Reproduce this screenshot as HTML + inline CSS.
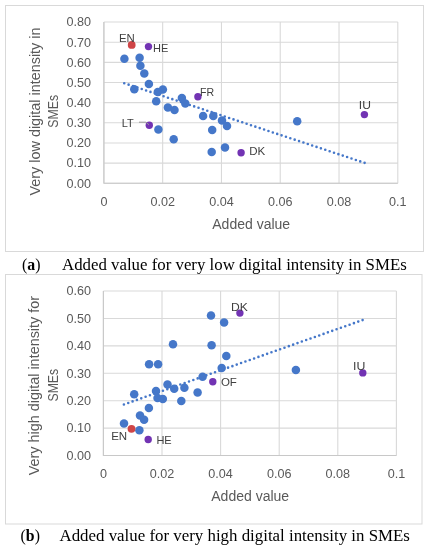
<!DOCTYPE html><html><head><meta charset="utf-8"><title>Added value vs digital intensity</title>
<style>html,body{margin:0;padding:0;background:#fff;}svg{display:block;will-change:transform;}text{font-family:"Liberation Sans", sans-serif;}</style></head><body>
<svg width="429" height="550" viewBox="0 0 429 550">
<rect x="0" y="0" width="429" height="550" fill="#fff"/>
<rect x="5.5" y="5.5" width="418.0" height="246.0" fill="none" stroke="#D9D9D9" stroke-width="1"/>
<path d="M103.90 183.30H397.80 M103.90 163.14H397.80 M103.90 142.98H397.80 M103.90 122.82H397.80 M103.90 102.66H397.80 M103.90 82.50H397.80 M103.90 62.34H397.80 M103.90 42.18H397.80 M103.90 22.02H397.80 M103.90 22.02V183.30 M162.68 22.02V183.30 M221.46 22.02V183.30 M280.24 22.02V183.30 M339.02 22.02V183.30 M397.80 22.02V183.30" stroke="#D9D9D9" stroke-width="1.1" fill="none"/>
<path d="M103.90 22.02V183.30H397.80" stroke="#C8C8C8" stroke-width="1.1" fill="none"/>
<text x="91.1" y="187.65" font-size="12.6" fill="#595959" text-anchor="end">0.00</text>
<text x="91.1" y="167.49" font-size="12.6" fill="#595959" text-anchor="end">0.10</text>
<text x="91.1" y="147.33" font-size="12.6" fill="#595959" text-anchor="end">0.20</text>
<text x="91.1" y="127.17" font-size="12.6" fill="#595959" text-anchor="end">0.30</text>
<text x="91.1" y="107.01" font-size="12.6" fill="#595959" text-anchor="end">0.40</text>
<text x="91.1" y="86.85" font-size="12.6" fill="#595959" text-anchor="end">0.50</text>
<text x="91.1" y="66.69" font-size="12.6" fill="#595959" text-anchor="end">0.60</text>
<text x="91.1" y="46.53" font-size="12.6" fill="#595959" text-anchor="end">0.70</text>
<text x="91.1" y="26.37" font-size="12.6" fill="#595959" text-anchor="end">0.80</text>
<text x="103.90" y="205.90" font-size="12.6" fill="#595959" text-anchor="middle">0</text>
<text x="162.68" y="205.90" font-size="12.6" fill="#595959" text-anchor="middle">0.02</text>
<text x="221.46" y="205.90" font-size="12.6" fill="#595959" text-anchor="middle">0.04</text>
<text x="280.24" y="205.90" font-size="12.6" fill="#595959" text-anchor="middle">0.06</text>
<text x="339.02" y="205.90" font-size="12.6" fill="#595959" text-anchor="middle">0.08</text>
<text x="397.80" y="205.90" font-size="12.6" fill="#595959" text-anchor="middle">0.1</text>
<text x="251.20" y="228.50" font-size="14" fill="#595959" text-anchor="middle">Added value</text>
<text transform="translate(39.80,111.50) rotate(-90)" x="0" y="0" font-size="14" fill="#595959" text-anchor="middle" textLength="168.0" lengthAdjust="spacingAndGlyphs">Very low digital intensity in</text>
<text transform="translate(58.20,111.30) rotate(-90)" x="0" y="0" font-size="14" fill="#595959" text-anchor="middle" textLength="32.7" lengthAdjust="spacingAndGlyphs">SMEs</text>
<path d="M124.25 83.22h0M128.62 84.66h0M132.99 86.11h0M137.36 87.56h0M141.73 89.01h0M146.10 90.45h0M150.47 91.90h0M154.84 93.35h0M159.21 94.80h0M163.58 96.24h0M167.95 97.69h0M172.32 99.14h0M176.69 100.59h0M181.06 102.03h0M185.43 103.48h0M189.80 104.93h0M194.17 106.38h0M198.54 107.82h0M202.91 109.27h0M207.28 110.72h0M211.65 112.17h0M216.02 113.62h0M220.39 115.06h0M224.76 116.51h0M229.13 117.96h0M233.50 119.41h0M237.87 120.85h0M242.24 122.30h0M246.61 123.75h0M250.98 125.20h0M255.35 126.64h0M259.72 128.09h0M264.09 129.54h0M268.46 130.99h0M272.83 132.43h0M277.20 133.88h0M281.57 135.33h0M285.94 136.78h0M290.31 138.22h0M294.68 139.67h0M299.05 141.12h0M303.42 142.57h0M307.79 144.01h0M312.16 145.46h0M316.53 146.91h0M320.90 148.36h0M325.27 149.81h0M329.64 151.25h0M334.01 152.70h0M338.38 154.15h0M342.75 155.60h0M347.12 157.04h0M351.49 158.49h0M355.86 159.94h0M360.23 161.39h0M364.60 162.83h0" stroke="#4577C9" stroke-width="2.6" stroke-linecap="round" fill="none"/>
<circle cx="124.4" cy="58.7" r="4.25" fill="#4577C9"/>
<circle cx="139.6" cy="57.8" r="4.25" fill="#4577C9"/>
<circle cx="140.4" cy="65.8" r="4.25" fill="#4577C9"/>
<circle cx="144.3" cy="73.6" r="4.25" fill="#4577C9"/>
<circle cx="148.9" cy="84.1" r="4.25" fill="#4577C9"/>
<circle cx="134.3" cy="89.3" r="4.25" fill="#4577C9"/>
<circle cx="157.8" cy="92.1" r="4.25" fill="#4577C9"/>
<circle cx="162.9" cy="89.5" r="4.25" fill="#4577C9"/>
<circle cx="156.2" cy="101.2" r="4.25" fill="#4577C9"/>
<circle cx="167.9" cy="107.6" r="4.25" fill="#4577C9"/>
<circle cx="174.5" cy="110.0" r="4.25" fill="#4577C9"/>
<circle cx="181.9" cy="97.9" r="4.25" fill="#4577C9"/>
<circle cx="185.3" cy="103.6" r="4.25" fill="#4577C9"/>
<circle cx="158.4" cy="129.6" r="4.25" fill="#4577C9"/>
<circle cx="173.7" cy="139.2" r="4.25" fill="#4577C9"/>
<circle cx="203.1" cy="116.0" r="4.25" fill="#4577C9"/>
<circle cx="213.3" cy="116.1" r="4.25" fill="#4577C9"/>
<circle cx="222.0" cy="120.6" r="4.25" fill="#4577C9"/>
<circle cx="227.0" cy="126.0" r="4.25" fill="#4577C9"/>
<circle cx="212.2" cy="129.9" r="4.25" fill="#4577C9"/>
<circle cx="225.0" cy="147.4" r="4.25" fill="#4577C9"/>
<circle cx="211.7" cy="152.1" r="4.25" fill="#4577C9"/>
<circle cx="297.2" cy="121.2" r="4.25" fill="#4577C9"/>
<circle cx="131.7" cy="44.9" r="3.9" fill="#CF4547"/>
<circle cx="148.5" cy="46.6" r="3.7" fill="#7233B3"/>
<circle cx="197.9" cy="96.7" r="3.7" fill="#7233B3"/>
<circle cx="149.3" cy="125.3" r="3.7" fill="#7233B3"/>
<circle cx="241.1" cy="152.7" r="3.7" fill="#7233B3"/>
<circle cx="364.4" cy="114.6" r="3.7" fill="#7233B3"/>
<polyline points="139.0,122.2 146.0,122.2 149.0,124.8" stroke="#969696" stroke-width="1" fill="none"/>
<text x="119.00" y="42.40" font-size="11.8" fill="#404040" textLength="15.8" lengthAdjust="spacingAndGlyphs">EN</text>
<text x="153.00" y="52.20" font-size="11.8" fill="#404040" textLength="15.3" lengthAdjust="spacingAndGlyphs">HE</text>
<text x="200.10" y="95.60" font-size="11.8" fill="#404040" textLength="14.1" lengthAdjust="spacingAndGlyphs">FR</text>
<text x="121.80" y="126.90" font-size="11.8" fill="#404040" textLength="12.0" lengthAdjust="spacingAndGlyphs">LT</text>
<text x="249.20" y="155.40" font-size="11.8" fill="#404040" textLength="16.0" lengthAdjust="spacingAndGlyphs">DK</text>
<text x="358.80" y="108.90" font-size="11.8" fill="#404040" textLength="12.1" lengthAdjust="spacingAndGlyphs">IU</text>
<text x="22.00" y="270.20" style="font-family:&quot;Liberation Serif&quot;, serif" font-size="15.8" fill="#000">(<tspan font-weight="bold">a</tspan>)</text>
<text x="62.00" y="270.20" style="font-family:&quot;Liberation Serif&quot;, serif" font-size="15.8" fill="#000" textLength="344.7" lengthAdjust="spacingAndGlyphs">Added value for very low digital intensity in SMEs</text>
<rect x="5.5" y="274.5" width="416.5" height="249.5" fill="none" stroke="#D9D9D9" stroke-width="1"/>
<path d="M103.40 455.50H396.40 M103.40 428.09H396.40 M103.40 400.68H396.40 M103.40 373.27H396.40 M103.40 345.86H396.40 M103.40 318.45H396.40 M103.40 291.04H396.40 M103.40 291.04V455.50 M162.00 291.04V455.50 M220.60 291.04V455.50 M279.20 291.04V455.50 M337.80 291.04V455.50 M396.40 291.04V455.50" stroke="#D9D9D9" stroke-width="1.1" fill="none"/>
<path d="M103.40 291.04V455.50H396.40" stroke="#C8C8C8" stroke-width="1.1" fill="none"/>
<text x="91.1" y="459.85" font-size="12.6" fill="#595959" text-anchor="end">0.00</text>
<text x="91.1" y="432.44" font-size="12.6" fill="#595959" text-anchor="end">0.10</text>
<text x="91.1" y="405.03" font-size="12.6" fill="#595959" text-anchor="end">0.20</text>
<text x="91.1" y="377.62" font-size="12.6" fill="#595959" text-anchor="end">0.30</text>
<text x="91.1" y="350.21" font-size="12.6" fill="#595959" text-anchor="end">0.40</text>
<text x="91.1" y="322.80" font-size="12.6" fill="#595959" text-anchor="end">0.50</text>
<text x="91.1" y="295.39" font-size="12.6" fill="#595959" text-anchor="end">0.60</text>
<text x="103.40" y="477.80" font-size="12.6" fill="#595959" text-anchor="middle">0</text>
<text x="162.00" y="477.80" font-size="12.6" fill="#595959" text-anchor="middle">0.02</text>
<text x="220.60" y="477.80" font-size="12.6" fill="#595959" text-anchor="middle">0.04</text>
<text x="279.20" y="477.80" font-size="12.6" fill="#595959" text-anchor="middle">0.06</text>
<text x="337.80" y="477.80" font-size="12.6" fill="#595959" text-anchor="middle">0.08</text>
<text x="396.40" y="477.80" font-size="12.6" fill="#595959" text-anchor="middle">0.1</text>
<text x="250.20" y="501.00" font-size="14" fill="#595959" text-anchor="middle">Added value</text>
<text transform="translate(39.30,385.60) rotate(-90)" x="0" y="0" font-size="14" fill="#595959" text-anchor="middle" textLength="179.3" lengthAdjust="spacingAndGlyphs">Very high digital intensity for</text>
<text transform="translate(57.90,385.20) rotate(-90)" x="0" y="0" font-size="14" fill="#595959" text-anchor="middle" textLength="32.7" lengthAdjust="spacingAndGlyphs">SMEs</text>
<path d="M123.90 404.49h0M128.24 402.96h0M132.58 401.42h0M136.92 399.89h0M141.26 398.35h0M145.60 396.82h0M149.94 395.29h0M154.28 393.75h0M158.62 392.22h0M162.96 390.68h0M167.30 389.15h0M171.64 387.61h0M175.98 386.08h0M180.32 384.54h0M184.66 383.01h0M189.00 381.47h0M193.34 379.94h0M197.68 378.40h0M202.02 376.87h0M206.36 375.33h0M210.70 373.80h0M215.04 372.26h0M219.38 370.73h0M223.72 369.19h0M228.06 367.66h0M232.40 366.13h0M236.74 364.59h0M241.08 363.06h0M245.42 361.52h0M249.76 359.99h0M254.10 358.45h0M258.44 356.92h0M262.78 355.38h0M267.12 353.85h0M271.46 352.31h0M275.80 350.78h0M280.14 349.24h0M284.48 347.71h0M288.82 346.17h0M293.16 344.64h0M297.50 343.10h0M301.84 341.57h0M306.18 340.03h0M310.52 338.50h0M314.86 336.97h0M319.20 335.43h0M323.54 333.90h0M327.88 332.36h0M332.22 330.83h0M336.56 329.29h0M340.90 327.76h0M345.24 326.22h0M349.58 324.69h0M353.92 323.15h0M358.26 321.62h0M362.60 320.08h0" stroke="#4577C9" stroke-width="2.6" stroke-linecap="round" fill="none"/>
<circle cx="124.0" cy="423.4" r="4.25" fill="#4577C9"/>
<circle cx="139.4" cy="430.3" r="4.25" fill="#4577C9"/>
<circle cx="140.0" cy="415.4" r="4.25" fill="#4577C9"/>
<circle cx="144.1" cy="419.8" r="4.25" fill="#4577C9"/>
<circle cx="148.9" cy="408.0" r="4.25" fill="#4577C9"/>
<circle cx="134.2" cy="394.2" r="4.25" fill="#4577C9"/>
<circle cx="156.0" cy="391.0" r="4.25" fill="#4577C9"/>
<circle cx="157.5" cy="398.0" r="4.25" fill="#4577C9"/>
<circle cx="162.8" cy="399.1" r="4.25" fill="#4577C9"/>
<circle cx="167.5" cy="384.4" r="4.25" fill="#4577C9"/>
<circle cx="174.2" cy="388.8" r="4.25" fill="#4577C9"/>
<circle cx="181.3" cy="401.1" r="4.25" fill="#4577C9"/>
<circle cx="184.4" cy="387.7" r="4.25" fill="#4577C9"/>
<circle cx="197.6" cy="392.6" r="4.25" fill="#4577C9"/>
<circle cx="202.6" cy="376.8" r="4.25" fill="#4577C9"/>
<circle cx="221.7" cy="368.0" r="4.25" fill="#4577C9"/>
<circle cx="173.0" cy="344.2" r="4.25" fill="#4577C9"/>
<circle cx="149.1" cy="364.3" r="4.25" fill="#4577C9"/>
<circle cx="158.1" cy="364.3" r="4.25" fill="#4577C9"/>
<circle cx="211.0" cy="315.5" r="4.25" fill="#4577C9"/>
<circle cx="224.1" cy="322.4" r="4.25" fill="#4577C9"/>
<circle cx="211.6" cy="345.3" r="4.25" fill="#4577C9"/>
<circle cx="226.3" cy="355.9" r="4.25" fill="#4577C9"/>
<circle cx="295.9" cy="370.1" r="4.25" fill="#4577C9"/>
<circle cx="131.5" cy="428.8" r="3.9" fill="#CF4547"/>
<circle cx="148.2" cy="439.5" r="3.7" fill="#7233B3"/>
<circle cx="212.8" cy="381.8" r="3.7" fill="#7233B3"/>
<circle cx="239.9" cy="313.1" r="3.7" fill="#7233B3"/>
<circle cx="362.8" cy="372.9" r="3.7" fill="#7233B3"/>
<text x="111.20" y="440.20" font-size="11.8" fill="#404040" textLength="16.0" lengthAdjust="spacingAndGlyphs">EN</text>
<text x="156.40" y="444.30" font-size="11.8" fill="#404040" textLength="15.3" lengthAdjust="spacingAndGlyphs">HE</text>
<text x="220.90" y="386.00" font-size="11.8" fill="#404040" textLength="16.0" lengthAdjust="spacingAndGlyphs">OF</text>
<text x="231.00" y="310.70" font-size="11.8" fill="#404040" textLength="16.8" lengthAdjust="spacingAndGlyphs">DK</text>
<text x="353.10" y="369.90" font-size="11.8" fill="#404040" textLength="12.3" lengthAdjust="spacingAndGlyphs">IU</text>
<text x="20.60" y="540.90" style="font-family:&quot;Liberation Serif&quot;, serif" font-size="15.8" fill="#000">(<tspan font-weight="bold">b</tspan>)</text>
<text x="59.50" y="540.90" style="font-family:&quot;Liberation Serif&quot;, serif" font-size="15.8" fill="#000" textLength="350.4" lengthAdjust="spacingAndGlyphs">Added value for very high digital intensity in SMEs</text>
</svg></body></html>
